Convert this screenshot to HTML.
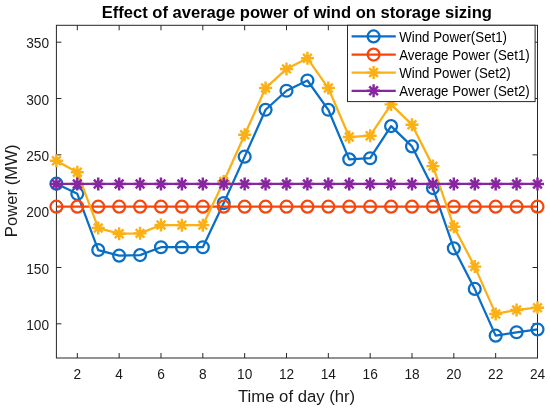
<!DOCTYPE html>
<html lang="en"><head><meta charset="utf-8"><title>Effect of average power of wind on storage sizing</title>
<style>
html,body{margin:0;padding:0;background:#fff;}
body{width:550px;height:410px;overflow:hidden;}
svg{display:block;}
text{font-family:"Liberation Sans",Arial,Helvetica,sans-serif;fill:#1a1a1a;}
.tick{font-size:13.7px;}
.lab{font-size:16.7px;}
.leg{font-size:13.3px;fill:#000;}
.title{font-size:16.58px;font-weight:bold;fill:#000;}
</style></head><body>
<svg width="550" height="410" viewBox="0 0 550 410">
<defs><clipPath id="clip"><rect x="56.4" y="25.3" width="481.1" height="332.7"/></clipPath></defs>
<rect width="550" height="410" fill="#fff"/>
<text class="title" transform="translate(296.8,17.9) scale(1,0.95)" text-anchor="middle">Effect of average power of wind on storage sizing</text>
<g stroke="#262626" stroke-width="1" fill="none">
<rect x="56.4" y="25.3" width="481.1" height="332.7"/>
<path d="M77.32 358.0v-5M77.32 25.3v5M119.15 358.0v-5M119.15 25.3v5M160.99 358.0v-5M160.99 25.3v5M202.82 358.0v-5M202.82 25.3v5M244.66 358.0v-5M244.66 25.3v5M286.49 358.0v-5M286.49 25.3v5M328.33 358.0v-5M328.33 25.3v5M370.16 358.0v-5M370.16 25.3v5M412 358.0v-5M412 25.3v5M453.83 358.0v-5M453.83 25.3v5M495.67 358.0v-5M495.67 25.3v5M537.5 358.0v-5M537.5 25.3v5M56.4 323.82h5M537.5 323.82h-5M56.4 267.5h5M537.5 267.5h-5M56.4 211.18h5M537.5 211.18h-5M56.4 154.85h5M537.5 154.85h-5M56.4 98.53h5M537.5 98.53h-5M56.4 42.2h5M537.5 42.2h-5"/>
</g>
<polyline points="56.4,183.69 77.32,193.83 98.23,250.04 119.15,255.67 140.07,255.11 160.99,247.22 181.9,247.22 202.82,247.22 223.74,203.06 244.66,156.65 265.57,109.79 286.49,90.75 307.41,80.5 328.33,109.79 349.24,159.36 370.16,158.23 391.08,126.12 412,146.4 432.91,188.08 453.83,248.35 474.75,288.9 495.67,335.65 516.58,332.27 537.5,329.46" fill="none" stroke="#0A6EC6" stroke-width="2.25" stroke-linejoin="round" clip-path="url(#clip)"/>
<circle cx="56.4" cy="183.69" r="5.95" fill="none" stroke="#0A6EC6" stroke-width="2.25"/>
<circle cx="77.32" cy="193.83" r="5.95" fill="none" stroke="#0A6EC6" stroke-width="2.25"/>
<circle cx="98.23" cy="250.04" r="5.95" fill="none" stroke="#0A6EC6" stroke-width="2.25"/>
<circle cx="119.15" cy="255.67" r="5.95" fill="none" stroke="#0A6EC6" stroke-width="2.25"/>
<circle cx="140.07" cy="255.11" r="5.95" fill="none" stroke="#0A6EC6" stroke-width="2.25"/>
<circle cx="160.99" cy="247.22" r="5.95" fill="none" stroke="#0A6EC6" stroke-width="2.25"/>
<circle cx="181.9" cy="247.22" r="5.95" fill="none" stroke="#0A6EC6" stroke-width="2.25"/>
<circle cx="202.82" cy="247.22" r="5.95" fill="none" stroke="#0A6EC6" stroke-width="2.25"/>
<circle cx="223.74" cy="203.06" r="5.95" fill="none" stroke="#0A6EC6" stroke-width="2.25"/>
<circle cx="244.66" cy="156.65" r="5.95" fill="none" stroke="#0A6EC6" stroke-width="2.25"/>
<circle cx="265.57" cy="109.79" r="5.95" fill="none" stroke="#0A6EC6" stroke-width="2.25"/>
<circle cx="286.49" cy="90.75" r="5.95" fill="none" stroke="#0A6EC6" stroke-width="2.25"/>
<circle cx="307.41" cy="80.5" r="5.95" fill="none" stroke="#0A6EC6" stroke-width="2.25"/>
<circle cx="328.33" cy="109.79" r="5.95" fill="none" stroke="#0A6EC6" stroke-width="2.25"/>
<circle cx="349.24" cy="159.36" r="5.95" fill="none" stroke="#0A6EC6" stroke-width="2.25"/>
<circle cx="370.16" cy="158.23" r="5.95" fill="none" stroke="#0A6EC6" stroke-width="2.25"/>
<circle cx="391.08" cy="126.12" r="5.95" fill="none" stroke="#0A6EC6" stroke-width="2.25"/>
<circle cx="412" cy="146.4" r="5.95" fill="none" stroke="#0A6EC6" stroke-width="2.25"/>
<circle cx="432.91" cy="188.08" r="5.95" fill="none" stroke="#0A6EC6" stroke-width="2.25"/>
<circle cx="453.83" cy="248.35" r="5.95" fill="none" stroke="#0A6EC6" stroke-width="2.25"/>
<circle cx="474.75" cy="288.9" r="5.95" fill="none" stroke="#0A6EC6" stroke-width="2.25"/>
<circle cx="495.67" cy="335.65" r="5.95" fill="none" stroke="#0A6EC6" stroke-width="2.25"/>
<circle cx="516.58" cy="332.27" r="5.95" fill="none" stroke="#0A6EC6" stroke-width="2.25"/>
<circle cx="537.5" cy="329.46" r="5.95" fill="none" stroke="#0A6EC6" stroke-width="2.25"/>
<polyline points="56.4,206.67 77.32,206.67 98.23,206.67 119.15,206.67 140.07,206.67 160.99,206.67 181.9,206.67 202.82,206.67 223.74,206.67 244.66,206.67 265.57,206.67 286.49,206.67 307.41,206.67 328.33,206.67 349.24,206.67 370.16,206.67 391.08,206.67 412,206.67 432.91,206.67 453.83,206.67 474.75,206.67 495.67,206.67 516.58,206.67 537.5,206.67" fill="none" stroke="#F7460B" stroke-width="2.25" stroke-linejoin="round" clip-path="url(#clip)"/>
<circle cx="56.4" cy="206.67" r="5.95" fill="none" stroke="#F7460B" stroke-width="2.25"/>
<circle cx="77.32" cy="206.67" r="5.95" fill="none" stroke="#F7460B" stroke-width="2.25"/>
<circle cx="98.23" cy="206.67" r="5.95" fill="none" stroke="#F7460B" stroke-width="2.25"/>
<circle cx="119.15" cy="206.67" r="5.95" fill="none" stroke="#F7460B" stroke-width="2.25"/>
<circle cx="140.07" cy="206.67" r="5.95" fill="none" stroke="#F7460B" stroke-width="2.25"/>
<circle cx="160.99" cy="206.67" r="5.95" fill="none" stroke="#F7460B" stroke-width="2.25"/>
<circle cx="181.9" cy="206.67" r="5.95" fill="none" stroke="#F7460B" stroke-width="2.25"/>
<circle cx="202.82" cy="206.67" r="5.95" fill="none" stroke="#F7460B" stroke-width="2.25"/>
<circle cx="223.74" cy="206.67" r="5.95" fill="none" stroke="#F7460B" stroke-width="2.25"/>
<circle cx="244.66" cy="206.67" r="5.95" fill="none" stroke="#F7460B" stroke-width="2.25"/>
<circle cx="265.57" cy="206.67" r="5.95" fill="none" stroke="#F7460B" stroke-width="2.25"/>
<circle cx="286.49" cy="206.67" r="5.95" fill="none" stroke="#F7460B" stroke-width="2.25"/>
<circle cx="307.41" cy="206.67" r="5.95" fill="none" stroke="#F7460B" stroke-width="2.25"/>
<circle cx="328.33" cy="206.67" r="5.95" fill="none" stroke="#F7460B" stroke-width="2.25"/>
<circle cx="349.24" cy="206.67" r="5.95" fill="none" stroke="#F7460B" stroke-width="2.25"/>
<circle cx="370.16" cy="206.67" r="5.95" fill="none" stroke="#F7460B" stroke-width="2.25"/>
<circle cx="391.08" cy="206.67" r="5.95" fill="none" stroke="#F7460B" stroke-width="2.25"/>
<circle cx="412" cy="206.67" r="5.95" fill="none" stroke="#F7460B" stroke-width="2.25"/>
<circle cx="432.91" cy="206.67" r="5.95" fill="none" stroke="#F7460B" stroke-width="2.25"/>
<circle cx="453.83" cy="206.67" r="5.95" fill="none" stroke="#F7460B" stroke-width="2.25"/>
<circle cx="474.75" cy="206.67" r="5.95" fill="none" stroke="#F7460B" stroke-width="2.25"/>
<circle cx="495.67" cy="206.67" r="5.95" fill="none" stroke="#F7460B" stroke-width="2.25"/>
<circle cx="516.58" cy="206.67" r="5.95" fill="none" stroke="#F7460B" stroke-width="2.25"/>
<circle cx="537.5" cy="206.67" r="5.95" fill="none" stroke="#F7460B" stroke-width="2.25"/>
<polyline points="56.4,160.82 77.32,172.2 98.23,228.07 119.15,233.7 140.07,233.37 160.99,225.03 181.9,225.14 202.82,225.14 223.74,181.55 244.66,134.8 265.57,88.05 286.49,68.9 307.41,58.31 328.33,88.05 349.24,137.05 370.16,135.7 391.08,104.38 412,124.77 432.91,166.12 453.83,226.72 474.75,266.6 495.67,313.91 516.58,309.97 537.5,307.72" fill="none" stroke="#FBB015" stroke-width="2.25" stroke-linejoin="round" clip-path="url(#clip)"/>
<path d="M49.9 160.82H62.9M56.4 154.32V167.32M52.05 156.47L60.75 165.18M52.05 165.18L60.75 156.47" fill="none" stroke="#FBB015" stroke-width="2.45"/>
<path d="M70.82 172.2H83.82M77.32 165.7V178.7M72.96 167.84L81.67 176.55M72.96 176.55L81.67 167.84" fill="none" stroke="#FBB015" stroke-width="2.45"/>
<path d="M91.73 228.07H104.73M98.23 221.57V234.57M93.88 223.72L102.59 232.43M93.88 232.43L102.59 223.72" fill="none" stroke="#FBB015" stroke-width="2.45"/>
<path d="M112.65 233.7H125.65M119.15 227.2V240.2M114.8 229.35L123.51 238.06M114.8 238.06L123.51 229.35" fill="none" stroke="#FBB015" stroke-width="2.45"/>
<path d="M133.57 233.37H146.57M140.07 226.87V239.87M135.71 229.01L144.42 237.72M135.71 237.72L144.42 229.01" fill="none" stroke="#FBB015" stroke-width="2.45"/>
<path d="M154.49 225.03H167.49M160.99 218.53V231.53M156.63 220.68L165.34 229.39M156.63 229.39L165.34 220.68" fill="none" stroke="#FBB015" stroke-width="2.45"/>
<path d="M175.4 225.14H188.4M181.9 218.64V231.64M177.55 220.79L186.26 229.5M177.55 229.5L186.26 220.79" fill="none" stroke="#FBB015" stroke-width="2.45"/>
<path d="M196.32 225.14H209.32M202.82 218.64V231.64M198.47 220.79L207.18 229.5M198.47 229.5L207.18 220.79" fill="none" stroke="#FBB015" stroke-width="2.45"/>
<path d="M217.24 181.55H230.24M223.74 175.05V188.05M219.38 177.19L228.09 185.9M219.38 185.9L228.09 177.19" fill="none" stroke="#FBB015" stroke-width="2.45"/>
<path d="M238.16 134.8H251.16M244.66 128.3V141.3M240.3 130.44L249.01 139.15M240.3 139.15L249.01 130.44" fill="none" stroke="#FBB015" stroke-width="2.45"/>
<path d="M259.07 88.05H272.07M265.57 81.55V94.55M261.22 83.69L269.93 92.4M261.22 92.4L269.93 83.69" fill="none" stroke="#FBB015" stroke-width="2.45"/>
<path d="M279.99 68.9H292.99M286.49 62.4V75.4M282.14 64.54L290.85 73.25M282.14 73.25L290.85 64.54" fill="none" stroke="#FBB015" stroke-width="2.45"/>
<path d="M300.91 58.31H313.91M307.41 51.81V64.81M303.05 53.95L311.76 62.66M303.05 62.66L311.76 53.95" fill="none" stroke="#FBB015" stroke-width="2.45"/>
<path d="M321.83 88.05H334.83M328.33 81.55V94.55M323.97 83.69L332.68 92.4M323.97 92.4L332.68 83.69" fill="none" stroke="#FBB015" stroke-width="2.45"/>
<path d="M342.74 137.05H355.74M349.24 130.55V143.55M344.89 132.7L353.6 141.41M344.89 141.41L353.6 132.7" fill="none" stroke="#FBB015" stroke-width="2.45"/>
<path d="M363.66 135.7H376.66M370.16 129.2V142.2M365.81 131.34L374.52 140.05M365.81 140.05L374.52 131.34" fill="none" stroke="#FBB015" stroke-width="2.45"/>
<path d="M384.58 104.38H397.58M391.08 97.88V110.88M386.72 100.03L395.43 108.74M386.72 108.74L395.43 100.03" fill="none" stroke="#FBB015" stroke-width="2.45"/>
<path d="M405.5 124.77H418.5M412 118.27V131.27M407.64 120.42L416.35 129.13M407.64 129.13L416.35 120.42" fill="none" stroke="#FBB015" stroke-width="2.45"/>
<path d="M426.41 166.12H439.41M432.91 159.62V172.62M428.56 161.76L437.27 170.47M428.56 170.47L437.27 161.76" fill="none" stroke="#FBB015" stroke-width="2.45"/>
<path d="M447.33 226.72H460.33M453.83 220.22V233.22M449.48 222.37L458.19 231.08M449.48 231.08L458.19 222.37" fill="none" stroke="#FBB015" stroke-width="2.45"/>
<path d="M468.25 266.6H481.25M474.75 260.1V273.1M470.39 262.24L479.1 270.95M470.39 270.95L479.1 262.24" fill="none" stroke="#FBB015" stroke-width="2.45"/>
<path d="M489.17 313.91H502.17M495.67 307.41V320.41M491.31 309.56L500.02 318.27M491.31 318.27L500.02 309.56" fill="none" stroke="#FBB015" stroke-width="2.45"/>
<path d="M510.08 309.97H523.08M516.58 303.47V316.47M512.23 305.61L520.94 314.32M512.23 314.32L520.94 305.61" fill="none" stroke="#FBB015" stroke-width="2.45"/>
<path d="M531 307.72H544M537.5 301.22V314.22M533.14 303.36L541.86 312.07M533.14 312.07L541.86 303.36" fill="none" stroke="#FBB015" stroke-width="2.45"/>
<polyline points="56.4,183.97 77.32,183.97 98.23,183.97 119.15,183.97 140.07,183.97 160.99,183.97 181.9,183.97 202.82,183.97 223.74,183.97 244.66,183.97 265.57,183.97 286.49,183.97 307.41,183.97 328.33,183.97 349.24,183.97 370.16,183.97 391.08,183.97 412,183.97 432.91,183.97 453.83,183.97 474.75,183.97 495.67,183.97 516.58,183.97 537.5,183.97" fill="none" stroke="#87269F" stroke-width="2.25" stroke-linejoin="round" clip-path="url(#clip)"/>
<path d="M49.9 183.97H62.9M56.4 177.47V190.47M52.05 179.62L60.75 188.33M52.05 188.33L60.75 179.62" fill="none" stroke="#87269F" stroke-width="2.45"/>
<path d="M70.82 183.97H83.82M77.32 177.47V190.47M72.96 179.62L81.67 188.33M72.96 188.33L81.67 179.62" fill="none" stroke="#87269F" stroke-width="2.45"/>
<path d="M91.73 183.97H104.73M98.23 177.47V190.47M93.88 179.62L102.59 188.33M93.88 188.33L102.59 179.62" fill="none" stroke="#87269F" stroke-width="2.45"/>
<path d="M112.65 183.97H125.65M119.15 177.47V190.47M114.8 179.62L123.51 188.33M114.8 188.33L123.51 179.62" fill="none" stroke="#87269F" stroke-width="2.45"/>
<path d="M133.57 183.97H146.57M140.07 177.47V190.47M135.71 179.62L144.42 188.33M135.71 188.33L144.42 179.62" fill="none" stroke="#87269F" stroke-width="2.45"/>
<path d="M154.49 183.97H167.49M160.99 177.47V190.47M156.63 179.62L165.34 188.33M156.63 188.33L165.34 179.62" fill="none" stroke="#87269F" stroke-width="2.45"/>
<path d="M175.4 183.97H188.4M181.9 177.47V190.47M177.55 179.62L186.26 188.33M177.55 188.33L186.26 179.62" fill="none" stroke="#87269F" stroke-width="2.45"/>
<path d="M196.32 183.97H209.32M202.82 177.47V190.47M198.47 179.62L207.18 188.33M198.47 188.33L207.18 179.62" fill="none" stroke="#87269F" stroke-width="2.45"/>
<path d="M217.24 183.97H230.24M223.74 177.47V190.47M219.38 179.62L228.09 188.33M219.38 188.33L228.09 179.62" fill="none" stroke="#87269F" stroke-width="2.45"/>
<path d="M238.16 183.97H251.16M244.66 177.47V190.47M240.3 179.62L249.01 188.33M240.3 188.33L249.01 179.62" fill="none" stroke="#87269F" stroke-width="2.45"/>
<path d="M259.07 183.97H272.07M265.57 177.47V190.47M261.22 179.62L269.93 188.33M261.22 188.33L269.93 179.62" fill="none" stroke="#87269F" stroke-width="2.45"/>
<path d="M279.99 183.97H292.99M286.49 177.47V190.47M282.14 179.62L290.85 188.33M282.14 188.33L290.85 179.62" fill="none" stroke="#87269F" stroke-width="2.45"/>
<path d="M300.91 183.97H313.91M307.41 177.47V190.47M303.05 179.62L311.76 188.33M303.05 188.33L311.76 179.62" fill="none" stroke="#87269F" stroke-width="2.45"/>
<path d="M321.83 183.97H334.83M328.33 177.47V190.47M323.97 179.62L332.68 188.33M323.97 188.33L332.68 179.62" fill="none" stroke="#87269F" stroke-width="2.45"/>
<path d="M342.74 183.97H355.74M349.24 177.47V190.47M344.89 179.62L353.6 188.33M344.89 188.33L353.6 179.62" fill="none" stroke="#87269F" stroke-width="2.45"/>
<path d="M363.66 183.97H376.66M370.16 177.47V190.47M365.81 179.62L374.52 188.33M365.81 188.33L374.52 179.62" fill="none" stroke="#87269F" stroke-width="2.45"/>
<path d="M384.58 183.97H397.58M391.08 177.47V190.47M386.72 179.62L395.43 188.33M386.72 188.33L395.43 179.62" fill="none" stroke="#87269F" stroke-width="2.45"/>
<path d="M405.5 183.97H418.5M412 177.47V190.47M407.64 179.62L416.35 188.33M407.64 188.33L416.35 179.62" fill="none" stroke="#87269F" stroke-width="2.45"/>
<path d="M426.41 183.97H439.41M432.91 177.47V190.47M428.56 179.62L437.27 188.33M428.56 188.33L437.27 179.62" fill="none" stroke="#87269F" stroke-width="2.45"/>
<path d="M447.33 183.97H460.33M453.83 177.47V190.47M449.48 179.62L458.19 188.33M449.48 188.33L458.19 179.62" fill="none" stroke="#87269F" stroke-width="2.45"/>
<path d="M468.25 183.97H481.25M474.75 177.47V190.47M470.39 179.62L479.1 188.33M470.39 188.33L479.1 179.62" fill="none" stroke="#87269F" stroke-width="2.45"/>
<path d="M489.17 183.97H502.17M495.67 177.47V190.47M491.31 179.62L500.02 188.33M491.31 188.33L500.02 179.62" fill="none" stroke="#87269F" stroke-width="2.45"/>
<path d="M510.08 183.97H523.08M516.58 177.47V190.47M512.23 179.62L520.94 188.33M512.23 188.33L520.94 179.62" fill="none" stroke="#87269F" stroke-width="2.45"/>
<path d="M531 183.97H544M537.5 177.47V190.47M533.14 179.62L541.86 188.33M533.14 188.33L541.86 179.62" fill="none" stroke="#87269F" stroke-width="2.45"/>
<text class="tick" transform="translate(77.32,379.3) scale(1,1.1)" text-anchor="middle">2</text>
<text class="tick" transform="translate(119.15,379.3) scale(1,1.1)" text-anchor="middle">4</text>
<text class="tick" transform="translate(160.99,379.3) scale(1,1.1)" text-anchor="middle">6</text>
<text class="tick" transform="translate(202.82,379.3) scale(1,1.1)" text-anchor="middle">8</text>
<text class="tick" transform="translate(244.66,379.3) scale(1,1.1)" text-anchor="middle">10</text>
<text class="tick" transform="translate(286.49,379.3) scale(1,1.1)" text-anchor="middle">12</text>
<text class="tick" transform="translate(328.33,379.3) scale(1,1.1)" text-anchor="middle">14</text>
<text class="tick" transform="translate(370.16,379.3) scale(1,1.1)" text-anchor="middle">16</text>
<text class="tick" transform="translate(412,379.3) scale(1,1.1)" text-anchor="middle">18</text>
<text class="tick" transform="translate(453.83,379.3) scale(1,1.1)" text-anchor="middle">20</text>
<text class="tick" transform="translate(495.67,379.3) scale(1,1.1)" text-anchor="middle">22</text>
<text class="tick" transform="translate(537.5,379.3) scale(1,1.1)" text-anchor="middle">24</text>
<text class="tick" transform="translate(49.1,330.02) scale(1,1.1)" text-anchor="end">100</text>
<text class="tick" transform="translate(49.1,273.7) scale(1,1.1)" text-anchor="end">150</text>
<text class="tick" transform="translate(49.1,217.38) scale(1,1.1)" text-anchor="end">200</text>
<text class="tick" transform="translate(49.1,161.05) scale(1,1.1)" text-anchor="end">250</text>
<text class="tick" transform="translate(49.1,104.73) scale(1,1.1)" text-anchor="end">300</text>
<text class="tick" transform="translate(49.1,48.4) scale(1,1.1)" text-anchor="end">350</text>
<text class="lab" x="296.6" y="401.7" text-anchor="middle">Time of day (hr)</text>
<text class="lab" transform="translate(16.9,190.8) rotate(-90)" text-anchor="middle">Power (MW)</text>
<rect x="347.5" y="25.3" width="187.6" height="76.3" fill="#fff" stroke="#262626" stroke-width="1"/>
<path d="M351.6 36.4H395.8" stroke="#0A6EC6" stroke-width="2.25" fill="none"/>
<circle cx="373.6" cy="36.4" r="5.95" fill="none" stroke="#0A6EC6" stroke-width="2.25"/>
<text class="leg" transform="translate(399.2,41.9) scale(1,1.045)">Wind Power(Set1)</text>
<path d="M351.6 54.6H395.8" stroke="#F7460B" stroke-width="2.25" fill="none"/>
<circle cx="373.6" cy="54.6" r="5.95" fill="none" stroke="#F7460B" stroke-width="2.25"/>
<text class="leg" transform="translate(399.2,60.1) scale(1,1.045)">Average Power (Set1)</text>
<path d="M351.6 72.6H395.8" stroke="#FBB015" stroke-width="2.25" fill="none"/>
<path d="M367.1 72.6H380.1M373.6 66.1V79.1M369.25 68.24L377.96 76.95M369.25 76.95L377.96 68.24" fill="none" stroke="#FBB015" stroke-width="2.45"/>
<text class="leg" transform="translate(399.2,78.1) scale(1,1.045)">Wind Power (Set2)</text>
<path d="M351.6 90.8H395.8" stroke="#87269F" stroke-width="2.25" fill="none"/>
<path d="M367.1 90.8H380.1M373.6 84.3V97.3M369.25 86.44L377.96 95.16M369.25 95.16L377.96 86.44" fill="none" stroke="#87269F" stroke-width="2.45"/>
<text class="leg" transform="translate(399.2,96.3) scale(1,1.045)">Average Power (Set2)</text>
</svg>
</body></html>
